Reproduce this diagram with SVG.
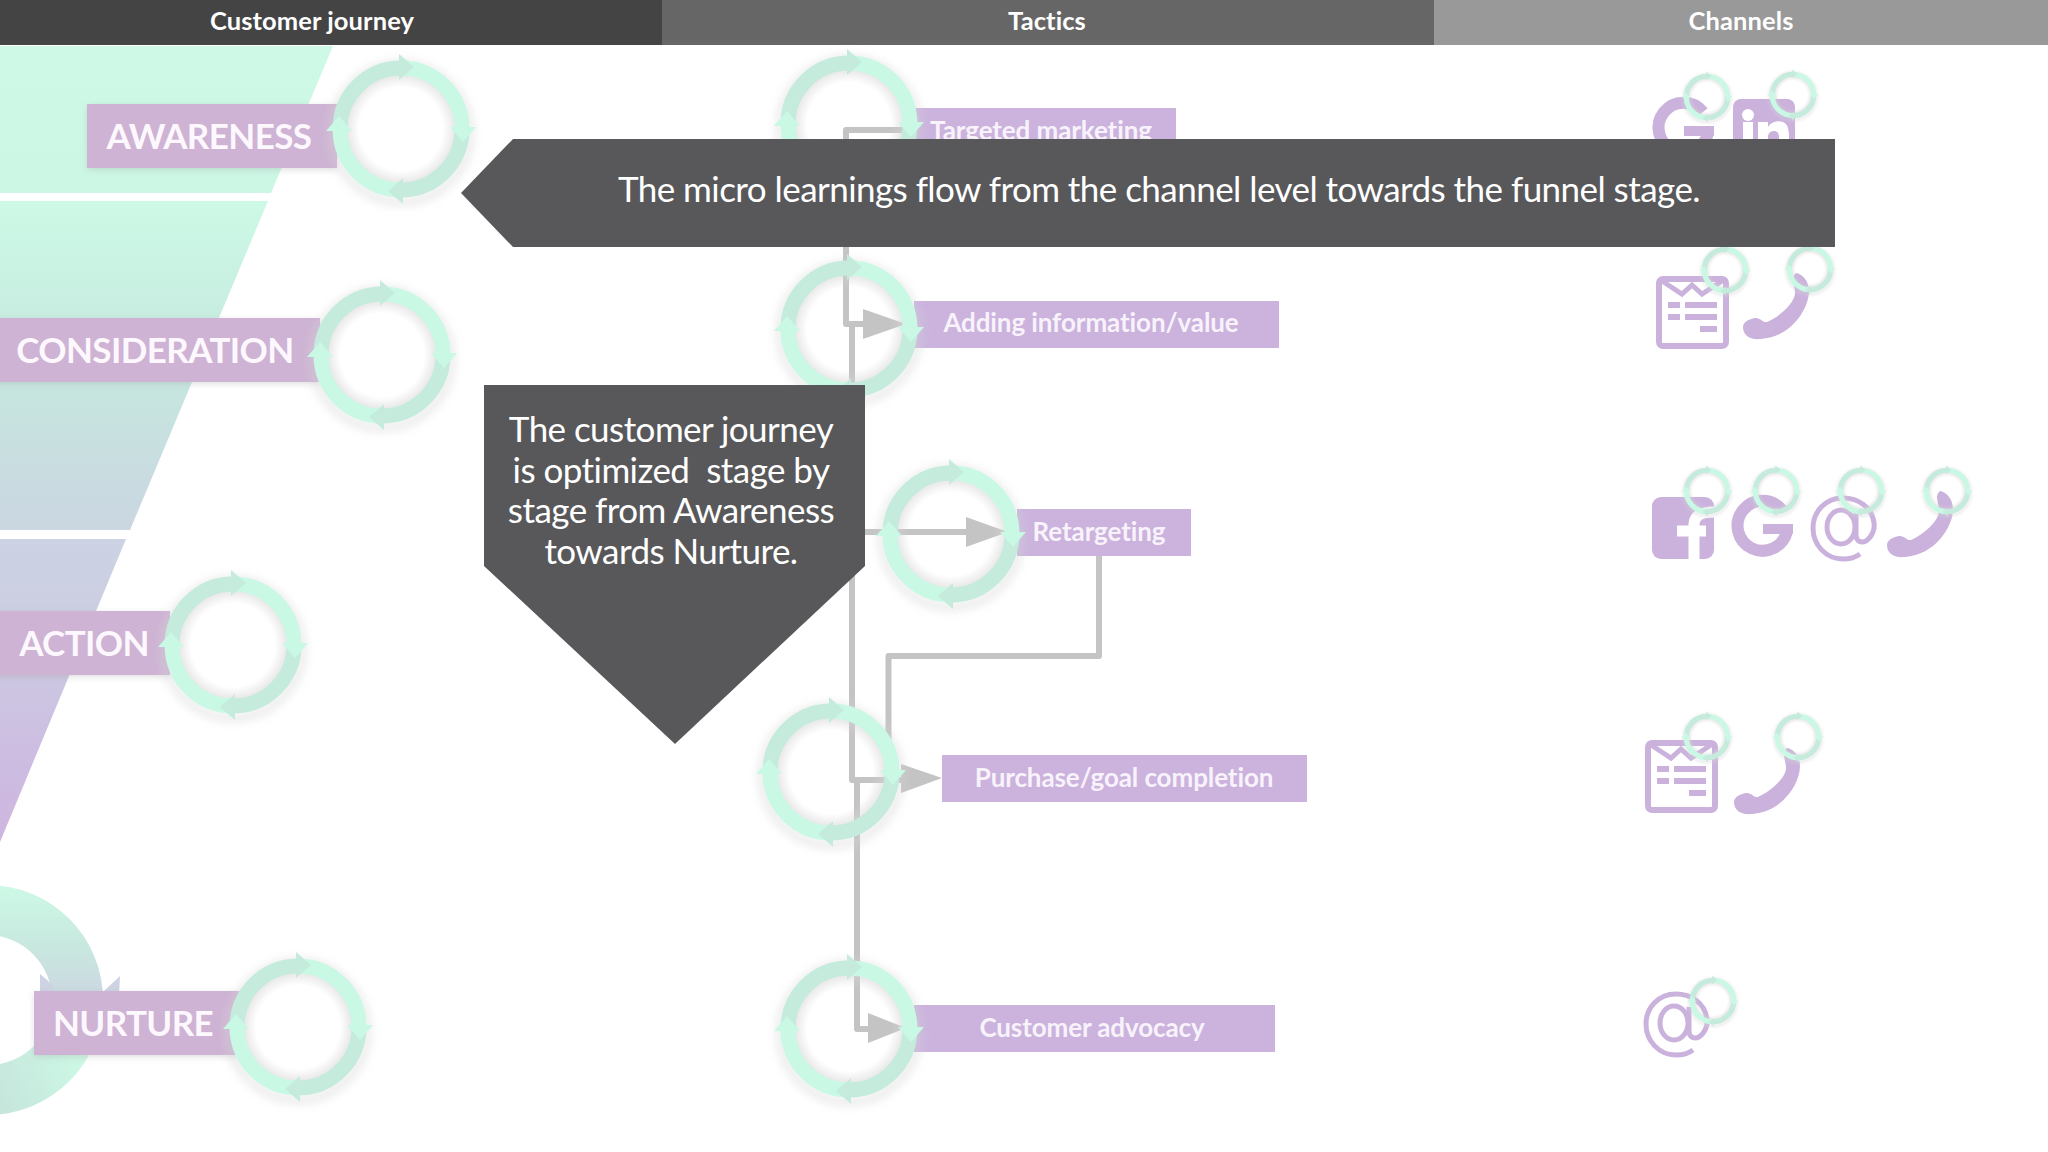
<svg xmlns="http://www.w3.org/2000/svg" xmlns:xlink="http://www.w3.org/1999/xlink" width="2048" height="1152" viewBox="0 0 2048 1152">
<style>
text{font-family:Lato,"Open Sans","Liberation Sans",sans-serif;fill:#fff;text-anchor:middle}
.hd{font-size:25.500px;font-weight:700;letter-spacing:.1px}
.st{font-size:35px;font-weight:700;fill:#fdf8fd;letter-spacing:-.6px}
.tc{font-size:26px;font-weight:700;fill:#f8f2fb;letter-spacing:-.1px}
.cal{font-size:35px;font-weight:400;white-space:pre;letter-spacing:-.55px}
.sb{fill:#ceb3d4;filter:url(#bs)}
.tb{fill:#cbb3de}
.ic{fill:#cab2dd}
.cn{fill:none;stroke:#c4c4c4;stroke-width:6;stroke-linejoin:round}
.ah{fill:#c4c4c4}
.dk{fill:#58585a}
</style>
<defs>
<linearGradient id="f1" gradientUnits="userSpaceOnUse" x1="0" y1="46" x2="0" y2="194"><stop offset="0" stop-color="#cdf9e6"/><stop offset="1" stop-color="#ccf7e5"/></linearGradient>
<linearGradient id="f2" gradientUnits="userSpaceOnUse" x1="0" y1="201" x2="0" y2="530"><stop offset="0" stop-color="#cdf9e6"/><stop offset=".45" stop-color="#c6eadf"/><stop offset="1" stop-color="#cad6e1"/></linearGradient>
<linearGradient id="f3" gradientUnits="userSpaceOnUse" x1="0" y1="539" x2="0" y2="842"><stop offset="0" stop-color="#ccd3e3"/><stop offset=".3" stop-color="#ccccE2"/><stop offset=".75" stop-color="#cdbce1"/><stop offset="1" stop-color="#ceb6df"/></linearGradient>
<linearGradient id="n1" gradientUnits="userSpaceOnUse" x1="0" y1="885" x2="0" y2="1000"><stop offset="0" stop-color="#cdf9e6"/><stop offset=".5" stop-color="#c8e9df"/><stop offset="1" stop-color="#ccd6e2"/></linearGradient>
<linearGradient id="n2" gradientUnits="userSpaceOnUse" x1="0" y1="1100" x2="90" y2="1060"><stop offset="0" stop-color="#c6e6dc"/><stop offset="1" stop-color="#cdf9e6"/></linearGradient>
<radialGradient id="ig" cx=".5" cy=".5" r=".5"><stop offset=".72" stop-color="#d6d4d4" stop-opacity="0"/><stop offset="1" stop-color="#d6d4d4" stop-opacity=".7"/></radialGradient>
<filter id="bs" x="-5%" y="-15%" width="110%" height="135%"><feDropShadow dx="0" dy="2" stdDeviation="3" flood-color="#999" flood-opacity=".3"/></filter>
<filter id="rs" x="-20%" y="-20%" width="140%" height="140%"><feGaussianBlur stdDeviation="5"/></filter>
<g id="ring">
<circle r="69" cy="4" fill="none" stroke="#d4d4d4" stroke-width="8" opacity=".5" filter="url(#rs)"/>
<circle r="58" fill="url(#ig)"/>
<path d="M-61,0A61,61 0 0 1 0,-61" fill="none" stroke="#c5ebdd" stroke-width="15"/>
<path d="M0,61A61,61 0 0 0 61,0" fill="none" stroke="#c5ebdd" stroke-width="15"/>
<path d="M0,-61A61,61 0 0 1 61,0" fill="none" stroke="#c9f8e5" stroke-width="15"/>
<path d="M0,61A61,61 0 0 1 -61,0" fill="none" stroke="#c9f8e5" stroke-width="15"/>
<path d="M-2,-75L13,-62L-2,-49Z" fill="#c5ebdd"/>
<path d="M75,-2L62,13L49,-2Z" fill="#c9f8e5"/>
<path d="M2,75L-13,62L2,49Z" fill="#c5ebdd"/>
<path d="M-75,2L-62,-13L-49,2Z" fill="#c9f8e5"/>
</g>
<g id="mail">
<rect x="3" y="3" width="67" height="67" rx="4" fill="none" stroke="#cab2dd" stroke-width="6"/>
<path d="M6,5L26,18L36,9L46,18L66,5" fill="none" stroke="#cab2dd" stroke-width="5"/>
<path class="ic" d="M12,26h12v6h-12zM29,26h32v6h-32zM12,38h12v6h-12zM29,38h32v6h-32zM44,50h17v6h-17z"/>
</g>
<path id="phone" class="ic" d="M53,0C60,1 66,9 66,18C66,36 48,64 18,66C6,67 0,62 0,54C0,49 6,46 12,45C17,44 20,50 24,49C36,44 52,30 52,20C52,12 47,5 53,0Z"/>
<g id="gee" fill="none" stroke="#cab2dd">
<path d="M50,14A25,25 0 1 0 55,35" stroke-width="12"/>
<path d="M31,33H61" stroke-width="10"/>
</g>
<g id="at" fill="none" stroke="#cab2dd" stroke-width="5">
<ellipse cx="31" cy="32" rx="14" ry="17"/>
<path d="M46,16V40C46,47 52,48 56,46C62,42 65,34 64,28C62,12 48,3 33,3C15,3 3,17 3,33C3,50 16,64 33,64C40,64 46,62 50,59"/>
</g>
</defs>
<rect width="2048" height="1152" fill="#fff"/>
<g id="funnel">
<path d="M0,46H333L271,193H0Z" fill="url(#f1)"/>
<path d="M0,201H268L130,530H0Z" fill="url(#f2)"/>
<path d="M0,539H126L0,842Z" fill="url(#f3)"/>
<path d="M-12,885A115,115 0 0 1 103,1000V1005H52V1000A65,65 0 0 0 -12,935Z" fill="url(#n1)"/>
<path d="M103,992L120,976L119,995H103Z" fill="#cdd3e2"/>
<path d="M40,974L53,985V995H40Z" fill="#cdd3e2"/>
<path d="M103,1000A115,115 0 0 1 -12,1115V1065A65,65 0 0 0 53,1000Z" fill="url(#n2)"/>
</g>
<g id="connectors">
<path class="cn" d="M846,247V130H905V140"/>
<path class="cn" d="M846,200V324H870"/>
<path class="ah" d="M863,309L906,324L863,339Z"/>
<path class="cn" d="M852,324V780H905"/>
<path class="cn" d="M860,532H970"/>
<path class="ah" d="M966,517L1008,532L966,547Z"/>
<path class="cn" d="M1099,556V656H888.500V778"/>
<path class="ah" d="M901,764L942,778L901,793Z"/>
<path class="cn" d="M857,780V1029H872"/>
<path class="ah" d="M868,1013L906,1028L868,1043Z"/>
</g>
<g id="awareness"><rect class="sb" x="87" y="104" width="250" height="64"/><text class="st" x="209" y="149">AWARENESS</text><use href="#ring" x="401" y="129"/></g>
<g id="consideration"><rect class="sb" x="-10" y="318" width="330" height="64"/><text class="st" x="155" y="363">CONSIDERATION</text><use href="#ring" x="382" y="355"/></g>
<g id="action"><rect class="sb" x="-10" y="611" width="180" height="64"/><text class="st" x="84" y="656">ACTION</text><use href="#ring" x="233" y="645"/></g>
<g id="nurture"><rect class="sb" x="34" y="991" width="206" height="64"/><text class="st" x="133" y="1036">NURTURE</text><use href="#ring" x="298" y="1027"/></g>
<g id="targeted"><rect class="tb" x="915" y="108" width="261" height="46"/><text class="tc" x="1041" y="140">Targeted marketing</text><use href="#ring" x="849" y="124"/></g>
<g id="adding"><rect class="tb" x="914" y="301" width="365" height="47"/><text class="tc" x="1091" y="332">Adding information/value</text><use href="#ring" x="849" y="329"/></g>
<g id="retargeting"><rect class="tb" x="1017" y="509" width="174" height="47"/><text class="tc" x="1099" y="541">Retargeting</text><use href="#ring" x="951" y="534"/></g>
<g id="purchase"><rect class="tb" x="942" y="755" width="365" height="47"/><text class="tc" x="1124" y="787">Purchase/goal completion</text><use href="#ring" x="831" y="772"/></g>
<g id="advocacy"><rect class="tb" x="914" y="1005" width="361" height="47"/><text class="tc" x="1092" y="1037">Customer advocacy</text><use href="#ring" x="849" y="1029"/></g>
<g id="channels-1">
<use href="#gee" x="1653" y="98"/>
<rect class="ic" x="1733" y="99" width="62" height="62" rx="8"/>
<circle cx="1748" cy="115" r="6" fill="#fff"/>
<path d="M1743,122h10v39h-10zM1758,122h10v5C1771,122 1778,120 1783,122C1788,124 1789,130 1789,137V161H1779V137C1779,133 1777,131 1774,131C1771,131 1768,133 1768,137V161H1758Z" fill="#fff"/>
<use href="#ring" transform="translate(1707,97) scale(.34)"/>
<use href="#ring" transform="translate(1793,95) scale(.34)"/>
</g>
<g id="channels-2">
<use href="#mail" x="1656" y="276"/>
<use href="#phone" x="1743" y="273"/>
<use href="#ring" transform="translate(1725,270) scale(.34)"/>
<use href="#ring" transform="translate(1810,269) scale(.34)"/>
</g>
<g id="channels-3">
<rect class="ic" x="1652" y="497" width="62" height="62" rx="9"/>
<path d="M1694,559V525C1694,516 1700,512 1714,512M1677,531H1706" fill="none" stroke="#fff" stroke-width="11"/>
<use href="#gee" x="1732" y="496"/>
<use href="#at" x="1810" y="495"/>
<use href="#phone" x="1887" y="491"/>
<use href="#ring" transform="translate(1707,491) scale(.34)"/>
<use href="#ring" transform="translate(1776,491) scale(.34)"/>
<use href="#ring" transform="translate(1861,491) scale(.34)"/>
<use href="#ring" transform="translate(1947,491) scale(.34)"/>
</g>
<g id="channels-4">
<use href="#mail" x="1645" y="740"/>
<use href="#phone" x="1734" y="748"/>
<use href="#ring" transform="translate(1707,737) scale(.34)"/>
<use href="#ring" transform="translate(1798,737) scale(.34)"/>
</g>
<g id="channels-5">
<use href="#at" x="1643" y="991"/>
<use href="#ring" transform="translate(1713,1001) scale(.34)"/>
</g>
<g id="header">
<rect width="662" height="45" fill="#444444"/>
<rect x="662" width="772" height="45" fill="#666666"/>
<rect x="1434" width="614" height="45" fill="#999999"/>
<text class="hd" x="312" y="30">Customer journey</text>
<text class="hd" x="1047" y="30">Tactics</text>
<text class="hd" x="1741" y="30">Channels</text>
</g>
<g id="callout-micro">
<path class="dk" d="M461,193L513,139H1835V247H513Z"/>
<text class="cal" x="1159" y="202">The micro learnings flow from the channel level towards the funnel stage.</text>
</g>
<g id="callout-journey">
<path class="dk" d="M484,385H865V566L675,744L484,566Z"/>
<text class="cal" x="671" y="442">The customer journey</text>
<text class="cal" x="671" y="483">is optimized  stage by</text>
<text class="cal" x="671" y="523">stage from Awareness</text>
<text class="cal" x="671" y="564">towards Nurture.</text>
</g>
</svg>
